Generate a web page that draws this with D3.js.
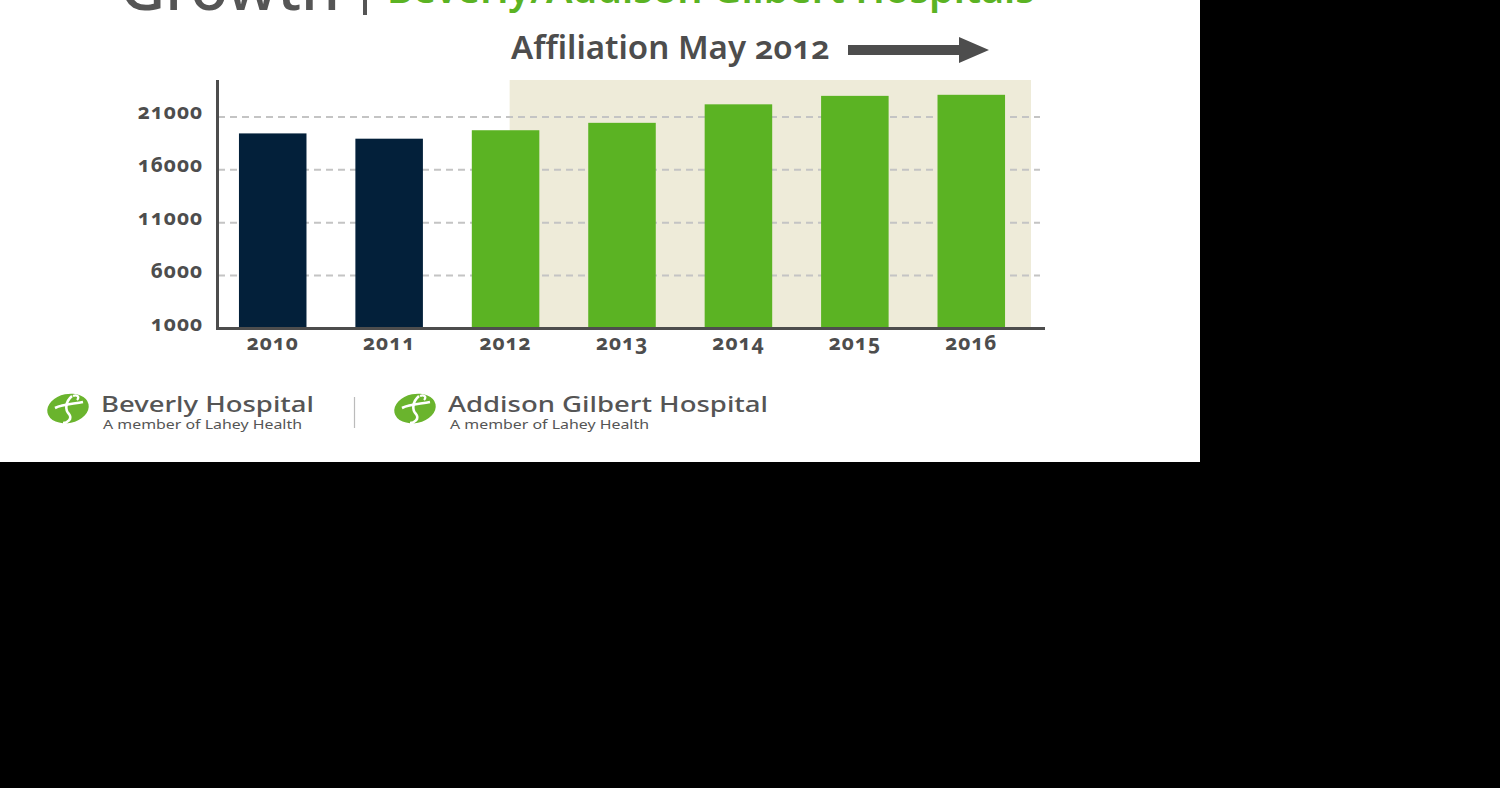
<!DOCTYPE html>
<html>
<head>
<meta charset="utf-8">
<script src="https://cdn.jsdelivr.net/npm/d3@7"></script>
<style>
  html, body { margin: 0; padding: 0; background: #000; }
  svg { display: block; }
  text { font-family: "Noto Sans", "Open Sans", sans-serif; }
  .num { font-variant-numeric: oldstyle-nums; font-feature-settings: "onum" 1; }
</style>
</head>
<body>
<svg id="chart" width="1500" height="788"></svg>
<script>
// ---- data ----
const years = ["2010", "2011", "2012", "2013", "2014", "2015", "2016"];
const visits = [19400, 18900, 19700, 20400, 22150, 22950, 23050];
const period = ["before", "before", "after", "after", "after", "after", "after"];
const yTicks = [1000, 6000, 11000, 16000, 21000];
const titleMain = "Growth";
const titleSub = "Beverly/Addison Gilbert Hospitals";
const affiliationLabel = "Affiliation May 2012";
const affiliationYear = "2012";
const hospitals = ["Beverly Hospital", "Addison Gilbert Hospital"];
const hospitalTagline = "A member of Lahey Health";

// ---- styles ----
const colors = { before: "#03203a", after: "#5bb323" };
const shade = "#eeebd9";
const ink = "#4d4d4d";

const svg = d3.select("#chart");
svg.append("rect").attr("x", 0).attr("y", 0).attr("width", 1200).attr("height", 462).attr("fill", "#fff");

function fitText(sel, width) {
  const w = sel.node().getComputedTextLength();
  const fs = parseFloat(sel.attr("font-size"));
  sel.attr("font-size", fs * width / w);
}
function spreadText(sel, width) {
  sel.attr("textLength", width).attr("lengthAdjust", "spacingAndGlyphs");
}

// ---- scales ----
const x = d3.scaleBand().domain(years).range([218, 1026]).paddingInner(0.42).paddingOuter(0.18);
const y = d3.scaleLinear().domain([1000, 24450]).range([328, 80]);

// shaded affiliation region
const shadeX0 = x(affiliationYear) + x.bandwidth() * 0.56;
svg.append("rect")
  .attr("x", shadeX0).attr("y", y.range()[1])
  .attr("width", x.range()[1] + 5 - shadeX0)
  .attr("height", y.range()[0] - y.range()[1])
  .attr("fill", shade);

// gridlines
const gridG = svg.append("g")
  .attr("transform", "translate(218,0)")
  .call(d3.axisLeft(y).tickValues(yTicks.slice(1)).tickSize(-822).tickFormat(""));
gridG.select(".domain").remove();
gridG.selectAll(".tick line")
  .attr("stroke", "#c4c4c4").attr("stroke-width", 2).attr("stroke-dasharray", "7,5");

// bars
svg.append("g").selectAll("rect").data(years).join("rect")
  .attr("x", d => x(d))
  .attr("width", x.bandwidth())
  .attr("y", (d, i) => y(visits[i]))
  .attr("height", (d, i) => y(1000) - y(visits[i]))
  .attr("fill", (d, i) => colors[period[i]]);

// y tick labels
const yAxisG = svg.append("g")
  .attr("transform", "translate(203,0)")
  .call(d3.axisLeft(y).tickValues(yTicks).tickSize(0).tickPadding(0).tickFormat(d3.format("d")));
yAxisG.select(".domain").remove();
yAxisG.selectAll("text")
  .attr("class", "num")
  .attr("font-size", 21).attr("font-weight", 700).attr("fill", ink)
  .attr("letter-spacing", 0.8)
  .attr("dy", "0.1em");

// x tick labels
const xAxisG = svg.append("g")
  .attr("transform", "translate(0,335)")
  .call(d3.axisBottom(x).tickSize(0).tickPadding(0));
xAxisG.select(".domain").remove();
xAxisG.selectAll("text")
  .attr("class", "num")
  .attr("font-size", 21).attr("font-weight", 700).attr("fill", ink)
  .attr("letter-spacing", 0.8)
  .attr("dy", "0.7em");

// axis lines
svg.append("line").attr("x1", 217.5).attr("x2", 217.5).attr("y1", 80).attr("y2", 330)
  .attr("stroke", ink).attr("stroke-width", 3);
svg.append("line").attr("x1", 216).attr("x2", 1045).attr("y1", y(1000) + 0.5).attr("y2", y(1000) + 0.5)
  .attr("stroke", ink).attr("stroke-width", 3);

// affiliation label + arrow
const aff = svg.append("text").attr("class", "num").attr("x", 511).attr("y", 59)
  .attr("font-size", 26).attr("font-weight", 600).attr("fill", ink).text(affiliationLabel);
fitText(aff, 319);
svg.append("path")
  .attr("d", "M848,45 L959,45 L959,37 L989,50 L959,63 L959,55 L848,55 Z")
  .attr("fill", ink);

// cut-off title at top
const tm = svg.append("text").attr("x", 120).attr("y", 10)
  .attr("font-size", 58).attr("font-weight", 500).attr("fill", "#555").text(titleMain);
fitText(tm, 220);
svg.append("rect").attr("x", 363).attr("y", 0).attr("width", 4).attr("height", 15).attr("fill", "#555");
const ts = svg.append("text").attr("x", 387).attr("y", 3)
  .attr("font-size", 38).attr("font-weight", 600).attr("fill", colors.after).text(titleSub);
fitText(ts, 648);

// footer logos
const logoX = [47, 394];
hospitals.forEach((name, i) => {
  const lx = logoX[i];
  const g = svg.append("g").attr("transform", `translate(${lx},0)`);
  g.append("ellipse").attr("cx", 21).attr("cy", 408.5).attr("rx", 21).attr("ry", 14.5)
    .attr("transform", `rotate(-12,21,408.5)`).attr("fill", "#6ab42d");
  g.append("path").attr("d", "M8,408 C16,404 26,404 36,402")
    .attr("stroke", "#fff").attr("stroke-width", 2.6).attr("fill", "none");
  g.append("path").attr("d", "M25,396 C18,402 18,410 22,414 C26,419 20,423 16,423")
    .attr("stroke", "#fff").attr("stroke-width", 2.6).attr("fill", "none");
  g.append("path").attr("d", "M26,396 C30,394 33,397 30,400")
    .attr("stroke", "#fff").attr("stroke-width", 2.2).attr("fill", "none");
  const t1 = g.append("text").attr("x", 54).attr("y", 412)
    .attr("font-size", 21).attr("font-weight", 500).attr("fill", "#555").text(name);
  spreadText(t1, i === 0 ? 213 : 320);
  const t2 = g.append("text").attr("x", 56).attr("y", 429)
    .attr("font-size", 12.5).attr("font-weight", 400).attr("fill", "#555").text(hospitalTagline);
  spreadText(t2, 199);
});
svg.append("line").attr("x1", 354.5).attr("x2", 354.5).attr("y1", 397).attr("y2", 428)
  .attr("stroke", "#bbb").attr("stroke-width", 1.2);
</script>
</body>
</html>
